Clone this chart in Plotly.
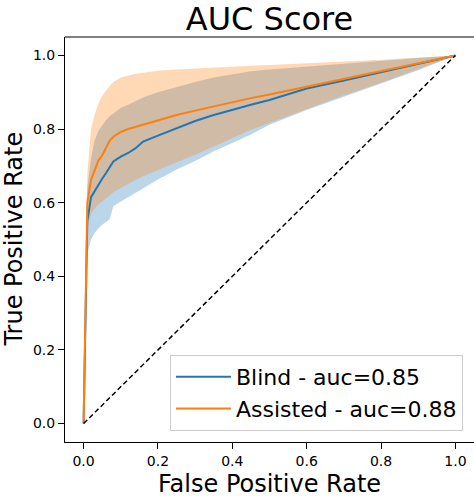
import plotly.graph_objects as go

# Common false-positive-rate grid
fpr = [0, 0.01, 0.02, 0.03, 0.04, 0.05, 0.06, 0.07, 0.08, 0.1, 0.12, 0.14, 0.16,
       0.2, 0.25, 0.3, 0.35, 0.4, 0.45, 0.5, 0.6, 0.7, 0.8, 0.9, 1.0]

# Blind
blind_mean = [0, 0.55, 0.615, 0.633, 0.648, 0.665, 0.68, 0.695, 0.712, 0.725, 0.735, 0.748, 0.766,
              0.782, 0.803, 0.822, 0.838, 0.853, 0.866, 0.879, 0.91, 0.932, 0.955, 0.978, 1.0]
blind_upper = [0, 0.64, 0.72, 0.77, 0.795, 0.81, 0.824, 0.835, 0.843, 0.857, 0.866, 0.876, 0.886,
               0.9, 0.915, 0.928, 0.94, 0.948, 0.957, 0.962, 0.97, 0.978, 0.985, 0.993, 1.0]
blind_lower = [0, 0.46, 0.5, 0.518, 0.53, 0.54, 0.548, 0.555, 0.59, 0.603, 0.615, 0.627, 0.638,
               0.663, 0.69, 0.713, 0.74, 0.762, 0.785, 0.812, 0.852, 0.889, 0.924, 0.96, 1.0]

# Assisted
assisted_mean = [0, 0.6, 0.662, 0.69, 0.715, 0.728, 0.748, 0.768, 0.779, 0.792, 0.8, 0.806, 0.812,
                 0.824, 0.838, 0.85, 0.862, 0.874, 0.884, 0.894, 0.915, 0.937, 0.958, 0.979, 1.0]
assisted_upper = [0, 0.68, 0.8, 0.84, 0.87, 0.89, 0.905, 0.918, 0.928, 0.94, 0.946, 0.95, 0.953,
                  0.958, 0.962, 0.965, 0.968, 0.97, 0.972, 0.974, 0.978, 0.983, 0.988, 0.994, 1.0]
assisted_lower = [0, 0.53, 0.57, 0.585, 0.595, 0.605, 0.613, 0.62, 0.628, 0.64, 0.652, 0.662, 0.672,
                  0.69, 0.71, 0.73, 0.752, 0.775, 0.798, 0.818, 0.855, 0.892, 0.926, 0.963, 1.0]

labels = ["Blind - auc=0.85", "Assisted - auc=0.88"]
diag = [0, 1]
xticks = [0.0, 0.2, 0.4, 0.6, 0.8, 1.0]

BLUE = "#1f77b4"
ORANGE = "#ff7f0e"
FONT = "DejaVu Sans"

fig = go.Figure()

def band(lower, upper, rgba):
    return go.Scatter(x=fpr + fpr[::-1], y=upper + lower[::-1], fill="toself",
                      fillcolor=rgba, line=dict(width=0), mode="lines",
                      hoverinfo="skip", showlegend=False)

fig.add_trace(band(blind_lower, blind_upper, "rgba(31,119,180,0.3)"))
fig.add_trace(band(assisted_lower, assisted_upper, "rgba(255,127,14,0.3)"))
fig.add_trace(go.Scatter(x=fpr, y=blind_mean, mode="lines", name=labels[0],
                         line=dict(color=BLUE, width=2)))
fig.add_trace(go.Scatter(x=fpr, y=assisted_mean, mode="lines", name=labels[1],
                         line=dict(color=ORANGE, width=2)))
fig.add_trace(go.Scatter(x=diag, y=diag, mode="lines", showlegend=False,
                         line=dict(color="black", width=1.5, dash="5px,3px")))

axis_common = dict(showgrid=False, zeroline=False, showline=True, linecolor="black",
                   linewidth=1, ticks="outside", ticklen=6, tickwidth=1, tickcolor="black",
                   tickvals=xticks, tickformat=".1f",
                   tickfont=dict(family=FONT, size=14, color="black"))

fig.update_layout(
    width=474, height=499,
    margin=dict(l=65, r=0, t=37, b=57),
    paper_bgcolor="white", plot_bgcolor="white",
    font=dict(family=FONT, color="black"),
    title=dict(text="AUC Score", x=0.5, xref="paper", xanchor="center",
               y=0.962, yref="container", yanchor="middle",
               font=dict(family=FONT, size=32, color="black")),
    xaxis=dict(range=[-0.05, 1.05], **axis_common),
    yaxis=dict(range=[-0.05, 1.05], **axis_common),
    legend=dict(x=0.973, y=0.027, xanchor="right", yanchor="bottom",
                bgcolor="rgba(255,255,255,0.8)", bordercolor="#cccccc", borderwidth=1,
                itemwidth=55,
                font=dict(family=FONT, size=22, color="black"), traceorder="normal"),
    shapes=[dict(type="line", xref="paper", yref="paper", x0=0, x1=1, y0=1, y1=1,
                 line=dict(color="black", width=1))],
    annotations=[
        dict(text="False Positive Rate", x=0.5, y=-0.104, xref="paper", yref="paper",
             xanchor="center", yanchor="middle", showarrow=False,
             font=dict(family=FONT, size=24, color="black")),
        dict(text="True Positive Rate", x=-0.127, y=0.5, xref="paper", yref="paper",
             xanchor="center", yanchor="middle", showarrow=False, textangle=-90,
             font=dict(family=FONT, size=24, color="black")),
    ],
)

fig.write_html("out.html", config={"displayModeBar": False},
               post_script="document.body.style.margin='0';document.body.style.overflow='hidden';")
